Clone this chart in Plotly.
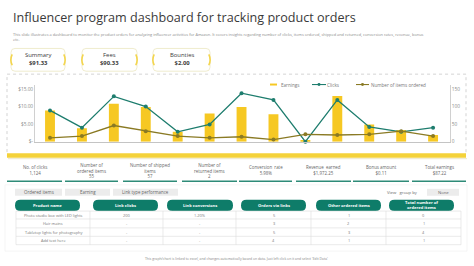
import plotly.graph_objects as go

W, H = 474, 266

# ---------------- data ----------------
categories = list(range(1, 14))
earnings = [8.9, 3.8, 10.8, 9.9, 2.8, 8.0, 9.9, 7.8, 0.4, 13.0, 4.9, 3.3, 1.9]
clicks = [89, 40, 129, 100, 28, 49, 138, 119, 0, 119, 42, 28, 40]
items_ordered = [11, 16, 46, 30, 16, 11, 14, 6, 21, 19, 21, 30, 16]

left_tickvals = [0, 5, 10, 15]
left_ticktext = ["$-", "$5.00", "$10.00", "$15.00"]
right_tickvals = [0, 50, 100, 150]
right_ticktext = ["0", "50", "100", "150"]

summary_labels = ["Summary", "Fees", "Bounties"]
summary_values = ["$91.33", "$90.33", "$2.00"]

kpi_labels = ["No. of clicks", "Number of<br>ordered items", "Number of shipped<br>items",
              "Number of<br>returned items", "Conversion  rate", "Revenue  earned",
              "Bonus amount", "Total earnings"]
kpi_values = ["1,124", "55", "57", "2", "5.98%", "$1,972.25", "$0.11", "$87.22"]

tab_labels = ["Ordered items", "Earning", "Link type performance"]

column_headers = ["Product name", "Link clicks", "Link conversions", "Orders via links",
                  "Other ordered items", "Total number of<br>ordered items"]
product_names = ["Photo studio box with LED lights", "Hair mains",
                 "Tabletop lights for photography", "Add text here"]
link_clicks = ["200", "-", "-", "-"]
link_conversions = ["1.20%", "-", "-", "-"]
orders_via_links = ["5", "3", "5", "4"]
other_ordered = ["1", "2", "3", "1"]
total_ordered = ["0", "1", "4", "1"]

title_text = "Influencer program dashboard for tracking product orders"
subtitle_text = ("This slide illustrates a dashboard to monitor the product orders for analyzing influencer "
                 "activities for Amazon. It covers insights regarding number of clicks, items ordered, shipped "
                 "and returned, conversion rates, revenue, bonus<br>etc.")
footer_text = ("This graph/chart is linked to excel, and changes automatically based on data. "
               "Just left click on it and select 'Edit Data'")

# ---------------- styles ----------------
YELLOW = "#F6C823"
TEAL = "#1E7D6E"
OLIVE = "#8A7A24"
BTN = "#0E7C69"
FONT = "Open Sans"


def X(p):
    return p / W


def Y(p):
    return 1 - p / H


def rrect_path(x0, y0, x1, y1, r):
    pts = [
        f"M {X(x0 + r)},{Y(y0)}",
        f"L {X(x1 - r)},{Y(y0)}",
        f"Q {X(x1)},{Y(y0)} {X(x1)},{Y(y0 + r)}",
        f"L {X(x1)},{Y(y1 - r)}",
        f"Q {X(x1)},{Y(y1)} {X(x1 - r)},{Y(y1)}",
        f"L {X(x0 + r)},{Y(y1)}",
        f"Q {X(x0)},{Y(y1)} {X(x0)},{Y(y1 - r)}",
        f"L {X(x0)},{Y(y0 + r)}",
        f"Q {X(x0)},{Y(y0)} {X(x0 + r)},{Y(y0)}",
        "Z",
    ]
    return " ".join(pts)


shapes = []
annotations = []


def rect(x0, y0, x1, y1, fill="rgba(0,0,0,0)", line="rgba(0,0,0,0)", lw=0, dash="solid", layer="below"):
    shapes.append(dict(type="rect", xref="paper", yref="paper", x0=X(x0), x1=X(x1), y0=Y(y1), y1=Y(y0),
                       fillcolor=fill, line=dict(color=line, width=lw, dash=dash), layer=layer))


def rrect(x0, y0, x1, y1, r, fill="rgba(0,0,0,0)", line="rgba(0,0,0,0)", lw=0, layer="below"):
    shapes.append(dict(type="path", xref="paper", yref="paper", path=rrect_path(x0, y0, x1, y1, r),
                       fillcolor=fill, line=dict(color=line, width=lw), layer=layer))


def hline(x0, x1, y, color, lw, layer="below"):
    shapes.append(dict(type="line", xref="paper", yref="paper", x0=X(x0), x1=X(x1), y0=Y(y), y1=Y(y),
                       line=dict(color=color, width=lw), layer=layer))


def vline(x, y0, y1, color, lw):
    shapes.append(dict(type="line", xref="paper", yref="paper", x0=X(x), x1=X(x), y0=Y(y0), y1=Y(y1),
                       line=dict(color=color, width=lw), layer="below"))


def text(x, y, s, size, color="#555", xanchor="center", yanchor="middle", bold=False, family=FONT, align="center"):
    annotations.append(dict(xref="paper", yref="paper", x=X(x), y=Y(y), text=(f"<b>{s}</b>" if bold else s),
                            showarrow=False, xanchor=xanchor, yanchor=yanchor, align=align,
                            font=dict(size=size, color=color, family=family)))


# ---------------- title ----------------
text(11, 18, title_text, 12.6, color="#3a3a3a", xanchor="left")
text(11, 30, subtitle_text, 3.9, color="#8a8a8a", xanchor="left", yanchor="top", align="left")

# ---------------- summary boxes ----------------
summary_boxes = [(11, 65), (82, 137), (153, 210)]
for (x0, x1), lab, val in zip(summary_boxes, summary_labels, summary_values):
    rrect(x0, 49, x1, 72, 4, fill="white", line="#ECE7C2", lw=0.8)
    for xa, xc in ((x0 + 1.2, x0 - 1.5), (x1 - 1.2, x1 + 1.5)):
        shapes.append(dict(type="path", xref="paper", yref="paper",
                           path=f"M {X(xa)},{Y(55)} Q {X(xc)},{Y(60.5)} {X(xa)},{Y(66)}",
                           line=dict(color="#F3D54E", width=1.6), layer="above"))
    cx = (x0 + x1) / 2
    text(cx, 60, f"{lab}<br><b>{val}</b>", 5.9, color="#3a3a3a")

# ---------------- chart panel ----------------
rect(7, 75, 466, 157, fill="white", line="#c8c8c8", lw=0.8, dash="dot")
rect(7, 155, 466, 159.5, fill="#F4D23A", line="#F4D23A", lw=0, layer="above")
hline(8, 467, 160.5, "#ece7c8", 1)

# manual legend
shapes.append(dict(type="rect", xref="paper", yref="paper", x0=X(270), x1=X(277), y0=Y(86.5), y1=Y(84.5),
                   fillcolor=YELLOW, line=dict(width=0), layer="above"))
text(278.5, 85.5, "Earnings", 4.6, color="#777", xanchor="left")
hline(312, 326, 85.5, TEAL, 1.1, layer="above")
shapes.append(dict(type="circle", xref="paper", yref="paper", x0=X(317.5), x1=X(320.5), y0=Y(87), y1=Y(84),
                   fillcolor=TEAL, line=dict(width=0), layer="above"))
text(325, 85.5, "Clicks", 4.6, color="#777", xanchor="left")
hline(356, 369, 85.5, OLIVE, 1.1, layer="above")
shapes.append(dict(type="circle", xref="paper", yref="paper", x0=X(361), x1=X(364), y0=Y(87), y1=Y(84),
                   fillcolor=OLIVE, line=dict(width=0), layer="above"))
text(369, 85.5, "Number of items ordered", 4.6, color="#777", xanchor="left")

# ---------------- KPI cards ----------------
kpi_cards = [(7, 62), (65, 118), (123, 177), (182, 237), (239, 292), (296, 351), (353, 409), (412, 466)]
for (x0, x1), lab, val in zip(kpi_cards, kpi_labels, kpi_values):
    text((x0 + x1) / 2, 172, f"{lab}<br>{val}", 4.4, color="#666")
    hline(x0, x1, 183.3, "#2E8B78", 1.6)

# ---------------- table panel ----------------
rect(5, 187, 467, 254, fill="white", line="#efefef", lw=0.6)

tab_boxes = [(15, 62), (65, 110), (113, 178)]
for (x0, x1), lab in zip(tab_boxes, tab_labels):
    rect(x0, 191, x1, 198, fill="#ECECEC")
    text((x0 + x1) / 2, 194.5, lab, 4.4, color="#666")
text(402, 194.5, "View   group by", 4.2, color="#666")
rect(427, 191, 459, 198, fill="#ECECEC")
text(443, 194.5, "None", 4.2, color="#666")

btn_boxes = [(15, 80), (93, 158), (167, 233), (241, 306), (316, 381), (389, 454)]
for (x0, x1), lab in zip(btn_boxes, column_headers):
    rrect(x0, 202, x1, 213.5, 5.5, fill=BTN)
    text((x0 + x1) / 2, 207.8, lab, 4.1, color="white", bold=True)

col_x = [16, 90, 163, 236, 311, 386, 461]
row_y = [213.5, 221.5, 230.5, 239, 247.5]
for yy in row_y:
    hline(col_x[0], col_x[-1], yy, "#dcdcdc", 0.6)
for xx in col_x:
    vline(xx, row_y[0], row_y[-1], "#dcdcdc", 0.6)

table_cols = [product_names, link_clicks, link_conversions, orders_via_links, other_ordered, total_ordered]
for ci, col in enumerate(table_cols):
    cx = (col_x[ci] + col_x[ci + 1]) / 2
    for ri, val in enumerate(col):
        cy = (row_y[ri] + row_y[ri + 1]) / 2
        text(cx, cy, val, 3.9, color="#777")

text(236, 261.5, footer_text, 3.4, color="#888")

# ---------------- chart traces ----------------
fig = go.Figure()
fig.add_trace(go.Bar(x=categories, y=earnings, name="Earnings", marker=dict(color=YELLOW, line=dict(width=0)),
                     width=0.31, yaxis="y"))
fig.add_trace(go.Scatter(x=categories, y=clicks, name="Clicks", mode="lines+markers", yaxis="y2",
                         line=dict(color=TEAL, width=1.3), marker=dict(size=4, color=TEAL), cliponaxis=False))
fig.add_trace(go.Scatter(x=categories, y=items_ordered, name="Number of items ordered", mode="lines+markers",
                         yaxis="y2", line=dict(color=OLIVE, width=1.3), marker=dict(size=4, color=OLIVE),
                         cliponaxis=False))

fig.update_layout(
    width=W, height=H, margin=dict(l=0, r=0, t=0, b=0),
    paper_bgcolor="white", plot_bgcolor="rgba(0,0,0,0)",
    showlegend=False,
    font=dict(family=FONT),
    xaxis=dict(domain=[X(35), X(450)], range=[0.53, 13.53], showticklabels=False, ticks="",
               showgrid=False, zeroline=False, showline=True, linecolor="#c4c4c4", linewidth=0.8,
               fixedrange=True),
    yaxis=dict(domain=[Y(143.3), Y(86)], range=[0, 16.13], tickvals=left_tickvals, ticktext=left_ticktext,
               tickfont=dict(size=4.8, color="#8a8a8a"), showgrid=False, zeroline=False, showline=True,
               linecolor="#d0d0d0", linewidth=0.8, ticks="", fixedrange=True),
    yaxis2=dict(overlaying="y", side="right", range=[0, 161.3], tickvals=right_tickvals,
                ticktext=right_ticktext, tickfont=dict(size=4.8, color="#8a8a8a"), showgrid=False,
                zeroline=False, showline=True, linecolor="#d0d0d0", linewidth=0.8, ticks="",
                fixedrange=True),
    shapes=shapes,
    annotations=annotations,
)

fig.write_html("out.html")
